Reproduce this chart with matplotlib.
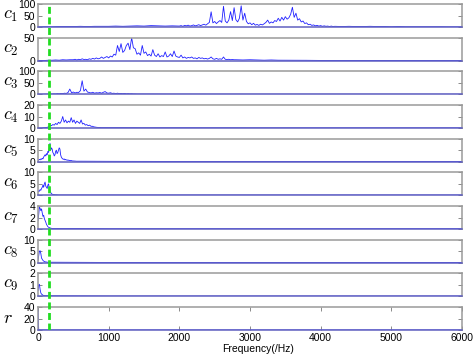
"""
IMF spectra c1..c9 and residual r, stacked panels with a cut-off marker.
"""

import numpy as np
import matplotlib.pyplot as plt

# ===== DATA =====
# each spectrum is a list of pieces: (start Hz, step Hz, amplitudes)
c1_pieces = [
    (0, 100, [0, 1, 1, 2, 2, 2, 3, 2, 3, 3, 3, 4, 3, 4, 5, 4, 6, 5, 4, 5]),
    (2000, 25, [4, 6, 3, 7, 5, 8, 4, 6, 9, 5, 7, 10, 6, 9, 12, 8, 14, 20, 66, 18,
                24, 15, 22, 28, 20, 90, 26, 18, 30, 67, 28, 84, 32, 22, 38, 92, 30, 60, 24, 14,
                18, 10, 16, 8, 11, 7, 12, 9, 14, 20, 30, 16, 22, 18, 28, 24, 38, 26, 42, 30,
                45, 34, 40, 55, 86, 42, 60, 30, 36, 22, 26, 15, 18, 10, 12, 7, 9, 5, 7, 4,
                6, 3, 5, 3, 4, 2, 4, 2]),
    (4200, 100, [3, 2, 3, 2, 2, 3, 2, 2, 1, 2, 1, 1, 1, 1, 1, 1, 0.5, 0.5, 0.5]),
]
c2_pieces = [
    (0, 50, [0, 0.5, 0.5, 1, 1, 1.5, 1, 2, 1.5, 2]),
    (500, 25, [2, 3, 1.5, 3, 2, 4, 2.5, 3, 2, 4, 3, 5, 3.5, 6, 4, 5, 8, 5, 7, 9,
               6, 10, 8, 14, 12, 33, 20, 37, 18, 22, 33, 38, 24, 50, 28, 26, 14, 17, 12, 33,
               16, 19, 11, 14, 10, 24, 12, 9, 15, 8, 11, 9, 19, 8, 10, 15, 9, 21, 10, 8,
               7, 12, 6, 8, 5, 7, 6, 8, 5, 6, 4, 7, 5, 6, 4, 5, 3.5, 5, 8, 4,
               3, 5, 3, 4, 3, 8, 3, 2.5, 3, 2, 2.5, 2]),
    (2800, 100, [2, 1.5, 2, 1.5, 1, 1.5, 1, 1, 0.8, 1, 0.8, 0.6, 0.5, 0.5, 0.4, 0.4, 0.4,
                 0.3, 0.3, 0.3, 0.3, 0.3, 0.2, 0.2, 0.2, 0.2, 0.2, 0.2, 0.2, 0.2, 0.2, 0.2, 0.2]),
]
c3_pieces = [
    (0, 25, [0, 0, 0, 0, 0.5, 0.5, 1, 1]),
    (200, 25, [1, 2, 1.5, 3, 2, 4, 3, 5, 4, 8, 23, 7, 10, 6, 9, 8, 16, 59, 14, 23,
               10, 8, 6, 9, 5, 7, 6, 8, 5, 9, 12, 6, 5, 7, 4, 5, 3, 5, 3, 4,
               2.5, 4, 2, 3, 2, 2.5, 1.5, 1.5]),
    (1400, 200, [1, 0.8, 0.5, 0.5, 0.4, 0.3, 0.3, 0.3, 0.2, 0.2, 0.2, 0.2,
                 0.2, 0.2, 0.2, 0.2, 0.2, 0.2, 0.2, 0.2, 0.2, 0.2, 0.2, 0.2]),
]
c4_pieces = [
    (0, 25, [0, 0, 0, 0.2, 0.3, 0.5]),
    (150, 20, [1, 2.5, 2, 3, 2.5, 4, 3, 5, 4, 6, 10, 5, 7, 4.5, 6, 5, 9, 5, 7, 4,
               6, 5, 4, 7, 3.5, 4, 2.5, 3, 2, 2.5, 1.5, 1.5, 1, 0.8, 0.6, 0.5, 0.4]),
    (900, 300, [0.3, 0.3, 0.2, 0.2, 0.2, 0.15, 0.15, 0.1, 0.1, 0.1, 0.1, 0.1,
                0.1, 0.1, 0.1, 0.1, 0.1, 0.1]),
]
c5_pieces = [
    (0, 10, [0.5, 0.8, 1, 0.8, 1.2, 1, 1.5, 1.2, 2, 2.5, 3, 2.5, 3.5, 3, 4.5, 4, 6, 8, 5, 6,
             5.5, 4, 3.5, 2.5, 3, 4.5, 5, 3.5, 4, 5, 6, 5.5, 3, 2, 1.5, 1.2, 1, 1.2, 0.8, 1,
             0.7, 0.8, 0.6, 0.7, 0.5, 0.6, 0.4, 0.5, 0.4, 0.3, 0.3, 0.3, 0.25, 0.25, 0.2, 0.2,
             0.2, 0.2, 0.2, 0.2, 0.2]),
    (1000, 1000, [0.15, 0.1, 0.1, 0.1, 0.1, 0.1]),
]
c6_pieces = [
    (0, 10, [1.5, 2, 1.8, 2.5, 2.2, 3, 3.5, 4.5, 3.5, 5, 5.8, 4, 3.5, 3, 4.5, 5, 3, 2, 1.2, 0.8,
             0.5, 0.4, 0.3, 0.3, 0.2, 0.2, 0.2, 0.15, 0.15, 0.1, 0.1]),
    (1000, 1000, [0.1, 0.1, 0.1, 0.1, 0.1, 0.1]),
]
c7_pieces = [
    (0, 10, [1.5, 2.5, 3.8, 3.6, 3.2, 3.5, 2.8, 2.2, 2.4, 1.8, 1.5, 1.2, 0.8, 0.6, 0.4, 0.3,
             0.25, 0.2, 0.15, 0.12, 0.1]),
    (1000, 1000, [0.05, 0.05, 0.05, 0.05, 0.05, 0.05]),
]
c8_pieces = [
    (0, 10, [1, 3, 5, 5.2, 4, 2, 1.5, 1, 0.7, 0.5, 0.4, 0.3, 0.3, 0.2, 0.2, 0.2]),
    (1000, 1000, [0.1, 0.1, 0.1, 0.1, 0.1, 0.1]),
]
c9_pieces = [
    (0, 10, [0.5, 1.0, 1.05, 0.6, 0.3, 0.2, 0.15, 0.1, 0.08, 0.06, 0.05]),
    (1000, 1000, [0.02, 0.02, 0.02, 0.02, 0.02, 0.02]),
]
r_pieces = [
    (0, 10, [35, 0.5, 0.3, 0.2, 0.1]),
    (1000, 1000, [0.05, 0.05, 0.05, 0.05, 0.05, 0.05]),
]

names = ['c_1', 'c_2', 'c_3', 'c_4', 'c_5', 'c_6', 'c_7', 'c_8', 'c_9', 'r']
all_pieces = [c1_pieces, c2_pieces, c3_pieces, c4_pieces, c5_pieces,
              c6_pieces, c7_pieces, c8_pieces, c9_pieces, r_pieces]
y_max = [100, 50, 100, 20, 10, 10, 4, 10, 2, 40]
y_ticks = [[0, 50, 100], [0, 50], [0, 50, 100], [0, 10, 20], [0, 5, 10],
           [0, 5, 10], [0, 2, 4], [0, 5, 10], [0, 1, 2], [0, 20, 40]]
x_ticks = [0, 1000, 2000, 3000, 4000, 5000, 6000]
f_cut = 150   # green marker (Hz)


def build(pieces):
    f, a = [], []
    for start, step, vals in pieces:
        f.extend(start + step * np.arange(len(vals)))
        a.extend(vals)
    return np.array(f, dtype=float), np.array(a, dtype=float)


# ===== FIGURE =====
plt.rcParams['font.family'] = ['Liberation Sans', 'DejaVu Sans']
plt.rcParams['mathtext.fontset'] = 'cm'

W, H = 474, 358
fig = plt.figure(figsize=(W / 100, H / 100), dpi=100)

left, right = 38 / W, 462 / W
pitch, height = 33.67, 23
n = len(names)

for k, (name, pieces) in enumerate(zip(names, all_pieces)):
    top_px = 4 + pitch * k
    ax = fig.add_axes([left, 1 - (top_px + height) / H, right - left, height / H])
    f, a = build(pieces)
    ax.plot(f, a, color='#2020ff', linewidth=0.6)
    ax.set_xlim(0, 6000)
    ax.set_ylim(0, y_max[k])
    ax.set_yticks(y_ticks[k])
    ax.tick_params(axis='both', direction='in', length=3, width=0.6,
                   labelsize=7.5, pad=2, right=True, top=True, color='#777777')
    if k < n - 1:
        ax.set_xticks([])
    else:
        ax.set_xticks(x_ticks)
        ax.set_xlabel('Frequency(/Hz)', fontsize=7.5, labelpad=2)
        ax.xaxis.set_label_coords(0.52, -0.62)
    for s in ax.spines.values():
        s.set_color('#9a9a9a')
        s.set_linewidth(1.1)
    ax.spines['bottom'].set_color('#6060c0')
    fig.text(3 / W, 1 - (top_px + height / 2) / H, '$%s$' % name, fontsize=13,
             ha='left', va='center')

# green marker running through all panels
top_all = 4
bot_all = 4 + pitch * (n - 1) + height
ov = fig.add_axes([left, 1 - bot_all / H, right - left, (bot_all - top_all) / H])
ov.set_xlim(0, 6000)
ov.set_ylim(0, 1)
ov.axis('off')
ov.axvline(f_cut, color='#22dd22', linewidth=2.0, linestyle=(0, (2.5, 1.3)))

fig.savefig('out.png', dpi=100)
